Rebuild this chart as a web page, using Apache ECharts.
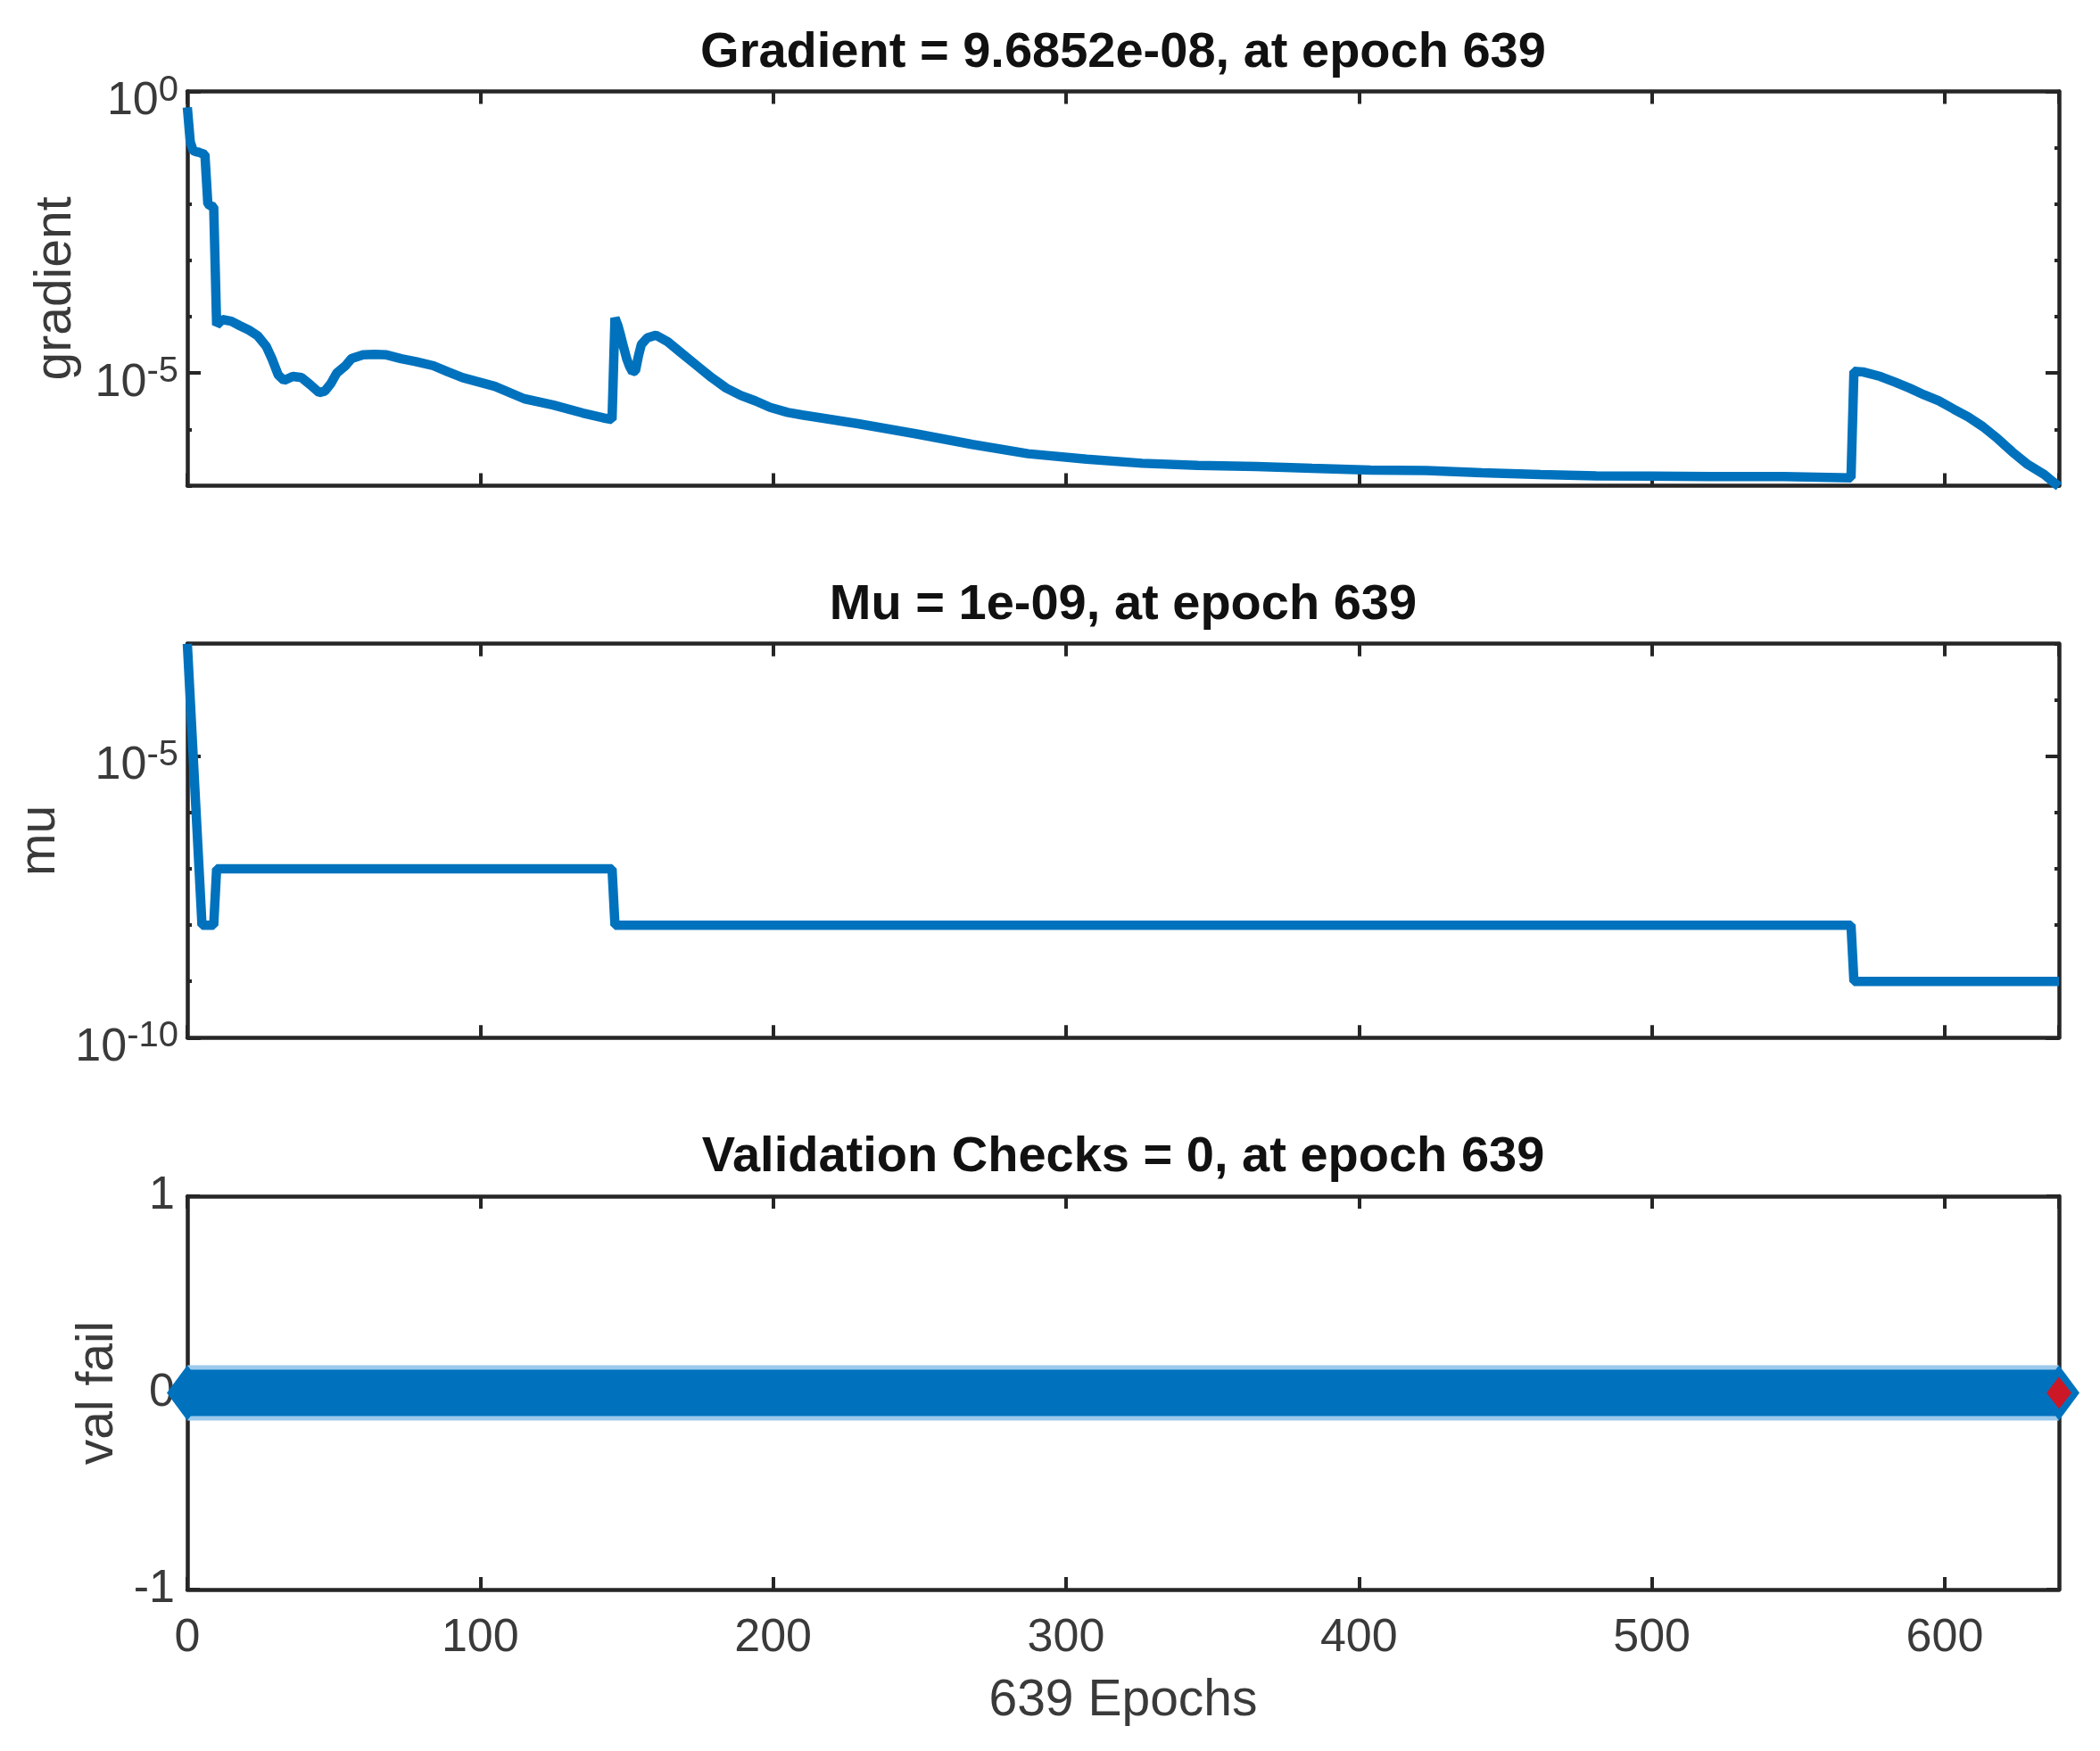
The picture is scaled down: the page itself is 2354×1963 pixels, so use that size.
<!DOCTYPE html>
<html>
<head>
<meta charset="utf-8">
<script src="https://cdn.jsdelivr.net/npm/echarts@6/dist/echarts.min.js"></script>
<style>html,body{margin:0;padding:0;background:#fff}#c{width:2354px;height:1963px}</style>
</head>
<body>
<div id="c"></div>
<script>
// ---------- data ----------
const gradEpochs = [0,1,2,3,4,5,6,7,8,9,10,12,15,18,21,24,27,29,31,33,36,39,42,45,47,49,51,54,56,60,64,68,73,78,84,89,94,105,115,125,135,142,145,146,147,148,149,150,151,152,153,154,155,157,160,164,169,174,179,184,189,194,199,205,210,229,249,268,287,307,326,345,365,384,404,423,442,462,481,500,520,545,568,569,572,578,583,588,593,598,603,608,613,618,623,628,634,637,639];
const gradValues = [0.52,0.126,0.089,0.085,0.083,0.079,0.076,0.010,0.0093,0.0089,7.1e-5,8.9e-5,8.3e-5,6.9e-5,5.8e-5,4.6e-5,2.95e-5,1.74e-5,9.3e-6,7.4e-6,8.7e-6,8.3e-6,6.2e-6,4.5e-6,4.8e-6,6.5e-6,1.0e-5,1.35e-5,1.8e-5,2.1e-5,2.14e-5,2.1e-5,1.8e-5,1.6e-5,1.35e-5,1.05e-5,8.3e-6,5.8e-6,3.5e-6,2.7e-6,1.95e-6,1.6e-6,1.5e-6,9.5e-5,7.0e-5,4.5e-5,2.8e-5,1.8e-5,1.3e-5,1.05e-5,1.1e-5,2.0e-5,3.2e-5,4.2e-5,4.7e-5,3.6e-5,2.2e-5,1.35e-5,8.3e-6,5.4e-6,4.0e-6,3.2e-6,2.45e-6,2.0e-6,1.8e-6,1.26e-6,8.3e-7,5.4e-7,3.7e-7,2.95e-7,2.5e-7,2.3e-7,2.2e-7,2.04e-7,1.9e-7,1.86e-7,1.7e-7,1.58e-7,1.5e-7,1.48e-7,1.45e-7,1.45e-7,1.38e-7,1.07e-5,1.05e-5,8.7e-6,6.9e-6,5.4e-6,4.1e-6,3.2e-6,2.3e-6,1.66e-6,1.12e-6,6.9e-7,4.0e-7,2.45e-7,1.58e-7,1.17e-7,9.6852e-8];
const muEpochs = [0,1,2,3,4,5,9,10,145,146,568,569,639];
const muValues = [1e-3,1e-4,1e-5,1e-6,1e-7,1e-8,1e-8,1e-7,1e-7,1e-8,1e-8,1e-9,1e-9];
const valEpochs = [0,639];
const valFail = [0,0];
const bestEpoch = [639];
const bestValFail = [0];

const titles = ['Gradient = 9.6852e-08, at epoch 639','Mu = 1e-09, at epoch 639','Validation Checks = 0, at epoch 639'];
const yNames = ['gradient','mu','val fail'];
const xName = '639 Epochs';
const epochMax = 639;
const epochStep = 100;
const gradRange = [1e-7, 1];      // log axis range
const muRange = [1e-10, 1e-3];
const gradMajorExp = [0, -5];     // labelled decades
const muMajorExp = [-5, -10];
const valRange = [-1, 1];

// ---------- style ----------
const FONT = '"Liberation Sans", Arial, Helvetica, sans-serif';
const AX = '#262626';
const TXT = '#3a3a3a';
const BLUE = '#0072BD';
const L = 210, R = 2308;
const boxes = [[102.5, 544.5], [721.7, 1163.3], [1341, 1782]];
const yNameGaps = [118, 130, 62];

const grid = boxes.map(b => ({left: L, top: b[0], width: R - L, height: b[1] - b[0], containLabel: false}));

const xAxis = [];
boxes.forEach((b, i) => {
  const common = {
    type: 'value', gridIndex: i, min: 0, max: epochMax, interval: epochStep,
    splitLine: {show: false},
    axisLine: {show: true, onZero: false, lineStyle: {color: AX, width: 4.5}},
    axisTick: {show: true, inside: true, length: 14, lineStyle: {color: AX, width: 4}}
  };
  xAxis.push(Object.assign({}, common, {
    position: 'bottom',
    axisLabel: {show: i === 2, margin: 29, fontSize: 52, color: TXT, fontFamily: FONT, showMaxLabel: false},
    name: i === 2 ? xName : '', nameLocation: 'middle', nameGap: 97,
    nameTextStyle: {fontSize: 57, color: TXT, fontFamily: FONT}
  }));
  xAxis.push(Object.assign({}, common, {
    position: 'top',
    axisLabel: {show: false},
    name: titles[i], nameLocation: 'middle', nameGap: 15,
    nameTextStyle: {fontSize: 56, fontWeight: 'bold', color: '#111', fontFamily: FONT}
  }));
});

const rich = {
  b: {fontSize: 52, lineHeight: 52, padding: [22, 0, 0, 0], color: TXT, fontFamily: FONT},
  s: {fontSize: 40, lineHeight: 40, verticalAlign: 'top', padding: [5, 0, 0, 0], color: TXT, fontFamily: FONT}
};
function logLabel(v) {
  const e = Math.round(Math.log10(v));
  if (e % 5 !== 0) return '';
  return '{b|10}{s|' + e + '}';
}

const yAxis = [];
[[gradRange, gradMajorExp], [muRange, muMajorExp]].forEach((cfg, i) => {
  const range = cfg[0], major = cfg[1];
  const logCommon = {
    type: 'log', logBase: 10, gridIndex: i, min: range[0], max: range[1], interval: 1,
    splitLine: {show: false},
    axisLine: {show: true, onZero: false, lineStyle: {color: AX, width: 4.5}},
    axisTick: {show: true, inside: true, length: 5, lineStyle: {color: AX, width: 4}}
  };
  yAxis.push(Object.assign({}, logCommon, {
    position: 'left',
    axisLabel: {show: true, margin: 10, formatter: logLabel, rich: rich, showMinLabel: true, showMaxLabel: true},
    name: yNames[i], nameLocation: 'middle', nameRotate: 90, nameGap: yNameGaps[i],
    nameTextStyle: {fontSize: 57, color: TXT, fontFamily: FONT}
  }));
  yAxis.push(Object.assign({}, logCommon, {position: 'right', axisLabel: {show: false}}));
  const ex = [Math.log10(range[0]), Math.log10(range[1])];
  const majCommon = {
    type: 'value', gridIndex: i, min: ex[0], max: ex[1],
    splitLine: {show: false}, axisLine: {show: false, onZero: false},
    axisLabel: {show: false},
    axisTick: {show: true, inside: true, length: 15, customValues: major, lineStyle: {color: AX, width: 4}}
  };
  yAxis.push(Object.assign({}, majCommon, {position: 'left'}));
  yAxis.push(Object.assign({}, majCommon, {position: 'right'}));
});
const valCommon = {
  type: 'value', gridIndex: 2, min: valRange[0], max: valRange[1], interval: 1,
  splitLine: {show: false},
  axisLine: {show: true, onZero: false, lineStyle: {color: AX, width: 4.5}},
  axisTick: {show: true, inside: true, length: 14, lineStyle: {color: AX, width: 4}}
};
yAxis.push(Object.assign({}, valCommon, {
  position: 'left',
  axisLabel: {show: true, margin: 14, fontSize: 52, color: TXT, fontFamily: FONT},
  name: yNames[2], nameLocation: 'middle', nameRotate: 90, nameGap: yNameGaps[2],
  nameTextStyle: {fontSize: 57, color: TXT, fontFamily: FONT}
}));
yAxis.push(Object.assign({}, valCommon, {position: 'right', axisLabel: {show: false}}));

const pairs = (xs, ys) => xs.map((x, k) => [x, ys[k]]);

const series = [
  {type: 'line', name: 'gradient', xAxisIndex: 0, yAxisIndex: 0, data: pairs(gradEpochs, gradValues),
   showSymbol: false, symbol: 'none', clip: true, lineStyle: {color: BLUE, width: 10.5}, z: 3},
  {type: 'line', name: 'mu', xAxisIndex: 2, yAxisIndex: 4, data: pairs(muEpochs, muValues),
   showSymbol: false, symbol: 'none', clip: true, lineStyle: {color: BLUE, width: 10.5}, z: 3},
  {type: 'line', name: 'val fail edge', xAxisIndex: 4, yAxisIndex: 8, data: pairs(valEpochs, valFail),
   symbol: 'none', clip: false, lineStyle: {color: '#9ccaec', width: 62}, z: 2},
  {type: 'line', name: 'val fail', xAxisIndex: 4, yAxisIndex: 8, data: pairs(valEpochs, valFail),
   symbol: 'diamond', symbolSize: [46, 62], showSymbol: true, clip: false,
   itemStyle: {color: BLUE}, lineStyle: {color: BLUE, width: 52}, z: 3},
  {type: 'scatter', name: 'best', xAxisIndex: 4, yAxisIndex: 8, data: pairs(bestEpoch, bestValFail),
   symbol: 'diamond', symbolSize: [28, 36], clip: false, itemStyle: {color: '#FF0000'}, z: 5}
];

const chart = echarts.init(document.getElementById('c'), null, {renderer: 'canvas'});
chart.setOption({
  animation: false,
  backgroundColor: '#ffffff',
  textStyle: {fontFamily: FONT},
  grid: grid,
  xAxis: xAxis,
  yAxis: yAxis,
  series: series
});
</script>
</body>
</html>
